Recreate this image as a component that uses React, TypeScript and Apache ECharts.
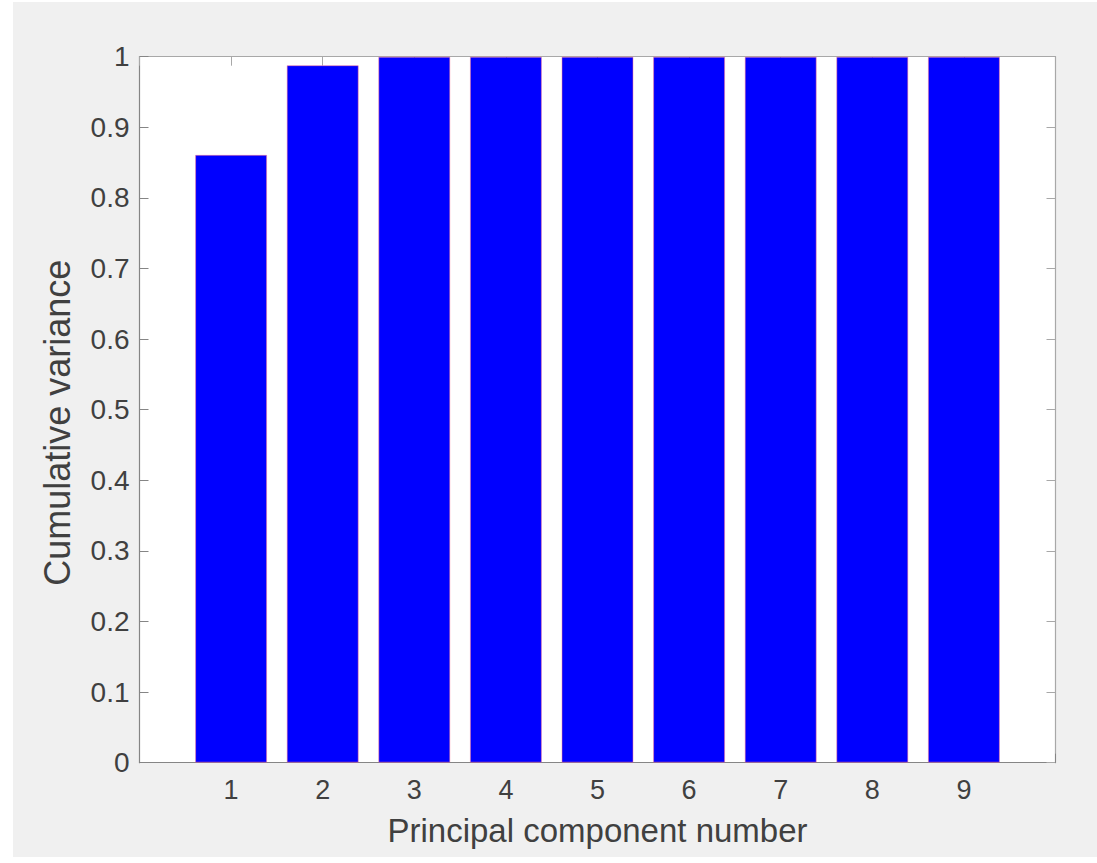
import React, { useEffect, useRef } from "react";
import * as echarts from "echarts";

const components = [1, 2, 3, 4, 5, 6, 7, 8, 9];
const cumulativeVariance = [0.861, 0.988, 1.0, 1.0, 1.0, 1.0, 1.0, 1.0, 1.0];
const xTickValues = [1, 2, 3, 4, 5, 6, 7, 8, 9];
const yTickLabels = ["0", "0.1", "0.2", "0.3", "0.4", "0.5", "0.6", "0.7", "0.8", "0.9", "1"];

const FONT = "'Liberation Sans', Arial, Helvetica, sans-serif";
const TEXT = "#404040";
const AXIS_DARK = "#858585";
const AXIS_LIGHT = "#a8a8a8";

export default function App() {
  const ref = useRef<HTMLDivElement>(null);

  useEffect(() => {
    document.body.style.margin = "0";
    if (!ref.current) return;
    const chart = echarts.init(ref.current, undefined, { renderer: "svg" });
    const data = components.map((c, i) => [c, cumulativeVariance[i]]);
    chart.setOption({
      animation: false,
      backgroundColor: "#ffffff",
      graphic: [
        {
          type: "rect",
          z: -10,
          silent: true,
          shape: { x: 13, y: 2, width: 1084, height: 855 },
          style: { fill: "#f0f0f0" },
        },
      ],
      grid: {
        left: 139.5,
        top: 56.7,
        right: 41.5,
        bottom: 100.3,
        show: true,
        backgroundColor: "#ffffff",
        borderWidth: 0,
        containLabel: false,
      },
      xAxis: [
        {
          type: "value",
          min: 0,
          max: 10,
          interval: 1,
          position: "bottom",
          splitLine: { show: false },
          axisLine: { show: true, onZero: false, lineStyle: { color: AXIS_DARK, width: 1.2 } },
          axisTick: { show: true, inside: true, length: 9, lineStyle: { color: AXIS_DARK } },
          axisLabel: {
            show: true,
            margin: 14,
            fontFamily: FONT,
            fontSize: 27,
            color: TEXT,
            formatter: (v: number) => (xTickValues.indexOf(v) >= 0 ? String(v) : ""),
          },
          name: "Principal component number",
          nameLocation: "middle",
          nameGap: 51,
          nameTextStyle: { fontFamily: FONT, fontSize: 33, color: TEXT },
        },
        {
          type: "value",
          min: 0,
          max: 10,
          interval: 1,
          position: "top",
          splitLine: { show: false },
          axisLine: { show: true, onZero: false, lineStyle: { color: AXIS_LIGHT, width: 1.2 } },
          axisTick: { show: true, inside: true, length: 9, lineStyle: { color: AXIS_LIGHT } },
          axisLabel: { show: false },
        },
      ],
      yAxis: [
        {
          type: "value",
          min: 0,
          max: 1,
          interval: 0.1,
          position: "left",
          splitLine: { show: false },
          axisLine: { show: true, onZero: false, lineStyle: { color: AXIS_DARK, width: 1.2 } },
          axisTick: { show: true, inside: true, length: 9, lineStyle: { color: AXIS_DARK } },
          axisLabel: {
            show: true,
            margin: 10,
            fontFamily: FONT,
            fontSize: 28,
            color: TEXT,
            formatter: (v: number) => yTickLabels[Math.round(v * 10)] ?? "",
          },
          name: "Cumulative variance",
          nameLocation: "middle",
          nameRotate: 90,
          nameGap: 64,
          nameTextStyle: {
            fontFamily: FONT,
            fontSize: 36,
            color: TEXT,
            padding: [0, 26, 0, 0],
          },
        },
        {
          type: "value",
          min: 0,
          max: 1,
          interval: 0.1,
          position: "right",
          splitLine: { show: false },
          axisLine: { show: true, onZero: false, lineStyle: { color: AXIS_LIGHT, width: 1.2 } },
          axisTick: { show: true, inside: true, length: 9, lineStyle: { color: AXIS_LIGHT } },
          axisLabel: { show: false },
        },
      ],
      series: [
        {
          type: "bar",
          xAxisIndex: 0,
          yAxisIndex: 0,
          data,
          barWidth: 72,
          itemStyle: {
            color: "#0000ff",
            borderColor: "rgba(255,120,150,0.5)",
            borderWidth: 1,
          },
        },
      ],
    });
    return () => chart.dispose();
  }, []);

  return (
    <div
      ref={ref}
      style={{ position: "fixed", left: 0, top: 0, width: 1097, height: 863 }}
    />
  );
}
